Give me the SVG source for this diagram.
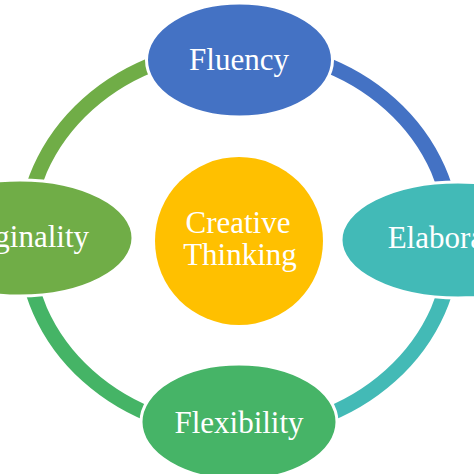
<svg xmlns="http://www.w3.org/2000/svg" width="474" height="474" viewBox="0 0 474 474">
<style>
.arc{fill:none;stroke-width:15}
.node{stroke:#ffffff;stroke-width:3}
.lbl{font-family:"Liberation Serif","Times New Roman",serif;font-size:31px;fill:#ffffff;text-anchor:middle}
</style>
<rect width="474" height="474" fill="#ffffff"/>
<g id="connectors">
<path class="arc" stroke="#70AD47" d="M239,48 A214,192 0 0 0 25,240"/>
<path class="arc" stroke="#4472C4" d="M239,48 A214,192 0 0 1 453,240"/>
<path class="arc" stroke="#43BAB6" d="M453,240 A214,192 0 0 1 239,432"/>
<path class="arc" stroke="#45B466" d="M25,240 A214,192 0 0 0 239,432"/>
</g>
<g id="center">
<circle cx="239" cy="241" r="84" fill="#FFC000"/>
<text class="lbl" x="238" y="233">Creative</text>
<text class="lbl" x="240" y="265">Thinking</text>
</g>
<g id="fluency">
<ellipse class="node" cx="239.5" cy="60" rx="93" ry="57" fill="#4472C4"/>
<text class="lbl" x="239" y="70">Fluency</text>
</g>
<g id="elaboration">
<ellipse class="node" cx="458" cy="240" rx="117" ry="58" fill="#42BAB7"/>
<text class="lbl" x="460" y="248">Elaboration</text>
</g>
<g id="flexibility">
<ellipse class="node" cx="239" cy="422" rx="98" ry="58" fill="#46B467"/>
<text class="lbl" x="239" y="433">Flexibility</text>
</g>
<g id="originality">
<ellipse class="node" cx="20" cy="238" rx="113" ry="58" fill="#70AD47"/>
<text class="lbl" x="21" y="247">Originality</text>
</g>
</svg>
